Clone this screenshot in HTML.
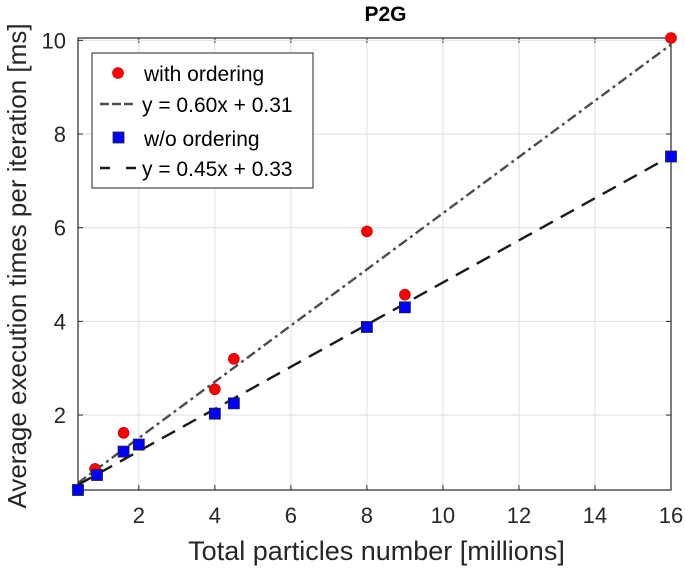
<!DOCTYPE html>
<html><head><meta charset="utf-8"><style>
body{margin:0;background:#fff;}
svg text{font-family:"Liberation Sans",sans-serif;}
</style></head><body>
<svg id="chart" width="685" height="569" xmlns="http://www.w3.org/2000/svg"></svg>
<script>
const xTicks=[2,4,6,8,10,12,14,16];
const yTicks=[2,4,6,8,10];
const xWith=[0.85,1.6,4,4.5,8,9,16];
const yWith=[0.85,1.62,2.55,3.2,5.92,4.57,10.05];
const xWo=[0.4,0.9,1.6,2,4,4.5,8,9,16];
const yWo=[0.4,0.72,1.22,1.37,2.03,2.25,3.88,4.3,7.52];
const fitWith=[0.60,0.31];
const fitWo=[0.45,0.33];
const xDomain=[0.4,16];
const yDomain=[0.4,10.05];

const L=78,R=671,T=38,B=490;
const sx=v=>L+(v-xDomain[0])/(xDomain[1]-xDomain[0])*(R-L);
const sy=v=>B-(v-yDomain[0])/(yDomain[1]-yDomain[0])*(B-T);
const svg=document.getElementById('chart');
const NS='http://www.w3.org/2000/svg';
function mk(tag,attrs,parent){const e=document.createElementNS(NS,tag);for(const k in attrs)e.setAttribute(k,attrs[k]);(parent||svg).appendChild(e);return e;}

xTicks.forEach(v=>{const g=mk('line',{x1:sx(v),x2:sx(v),y1:T,y2:B,stroke:'#dedede','stroke-width':1});


const t=mk('text',{x:sx(v),y:B+33,'text-anchor':'middle','font-size':22,fill:'#262626'});t.textContent=v;


mk('line',{x1:sx(v),x2:sx(v),y1:B,y2:B-5,stroke:'#262626'});mk('line',{x1:sx(v),x2:sx(v),y1:T,y2:T+5,stroke:'#262626'});});
yTicks.forEach(v=>{const g=mk('line',{x1:L,x2:R,y1:sy(v),y2:sy(v),stroke:'#dedede','stroke-width':1});


const t=mk('text',{x:L-12,y:sy(v)+8,'text-anchor':'end','font-size':22,fill:'#262626'});t.textContent=v;


mk('line',{x1:L,x2:L+5,y1:sy(v),y2:sy(v),stroke:'#262626'});mk('line',{x1:R,x2:R-5,y1:sy(v),y2:sy(v),stroke:'#262626'});});
const ax=mk('rect',{x:L,y:T,width:R-L,height:B-T,fill:'none',stroke:'#262626','stroke-width':1.2});



function fit(p,dash,col,name){const l=mk('line',{x1:sx(xDomain[0]),y1:sy(p[0]*xDomain[0]+p[1]),x2:sx(xDomain[1]),y2:sy(p[0]*xDomain[1]+p[1]),stroke:col,'stroke-width':2.4,'stroke-dasharray':dash});

}
fit(fitWith,'10,4,3,4','#4d4d4d','fit-line-with-ordering');
fit(fitWo,'15,9','#1a1a1a','fit-line-without-ordering');

xWith.forEach((v,i)=>{const c=mk('circle',{cx:sx(v),cy:sy(yWith[i]),r:5.5,fill:'#ff0000',stroke:'#b00','stroke-width':0.6});

});
xWo.forEach((v,i)=>{const r=mk('rect',{x:sx(v)-5.5,y:sy(yWo[i])-5.5,width:11,height:11,fill:'#0000ff',stroke:'#222','stroke-width':0.8});

});

const lg=mk('g',{});


mk('rect',{x:92,y:53,width:221,height:135,fill:'#fff',stroke:'#262626','stroke-width':1},lg);
mk('circle',{cx:118,cy:73,r:5.5,fill:'#ff0000',stroke:'#b00','stroke-width':0.6},lg);
mk('line',{x1:100,x2:135,y1:104,y2:104,stroke:'#4d4d4d','stroke-width':2.4,'stroke-dasharray':'9,3'},lg);
mk('rect',{x:113,y:132,width:11,height:11,fill:'#0000ff',stroke:'#222','stroke-width':0.8},lg);
mk('line',{x1:100,x2:136,y1:168,y2:168,stroke:'#1a1a1a','stroke-width':2.4,'stroke-dasharray':'10,16'},lg);
[['with ordering',144,81],['y =  0.60x + 0.31',142,112],['w/o ordering',144,146],['y = 0.45x + 0.33',142,176]].forEach(a=>{const t=mk('text',{x:a[1],y:a[2],'font-size':21,fill:'#000'},lg);t.textContent=a[0];

});

const ti=mk('text',{x:(L+R)/2+11,y:21,'text-anchor':'middle','font-size':21,'font-weight':'bold',fill:'#000'});ti.textContent='P2G';


const xl=mk('text',{x:(L+R)/2+2,y:560,'text-anchor':'middle','font-size':27,fill:'#262626'});xl.textContent='Total particles number [millions]';


const yl=mk('text',{x:0,y:0,'text-anchor':'middle','font-size':26,fill:'#262626',transform:'translate(26,266) rotate(-90)'});yl.textContent='Average execution times per iteration [ms]';


</script>
</body></html>
